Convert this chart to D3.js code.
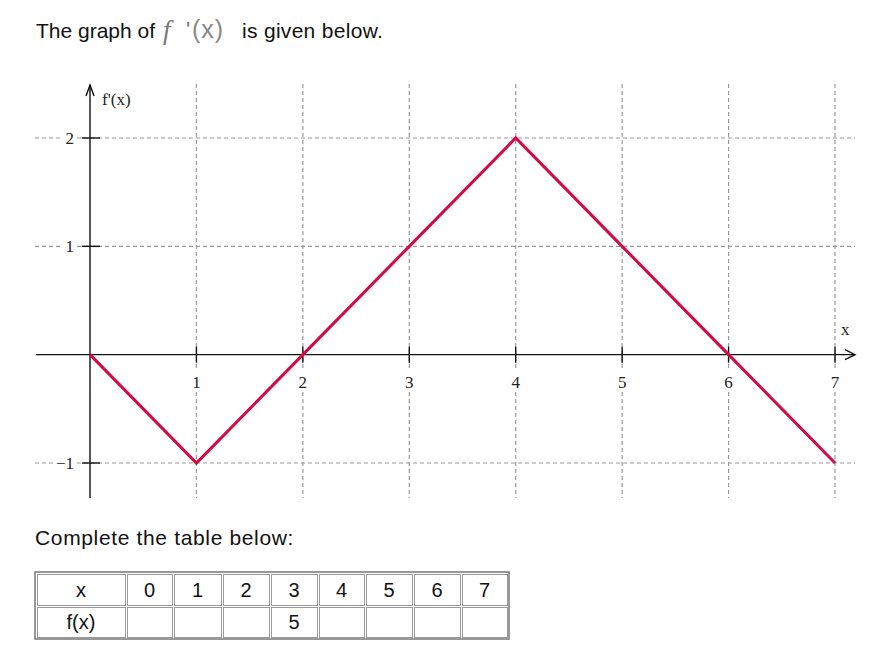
<!DOCTYPE html>
<html>
<head>
<meta charset="utf-8">
<script src="https://cdn.jsdelivr.net/npm/d3@7"></script>
<style>
  body { margin: 0; background: #fff; }
  svg text { font-family: "Liberation Sans", Arial, sans-serif; }
  .serif { font-family: "Liberation Serif", "Times New Roman", serif !important; }
</style>
</head>
<body>
<div class="chart-container"></div>
<script>
// Data
const xValues = [0, 1, 2, 3, 4, 5, 6, 7];
const fPrime = [0, -1, 0, 1, 2, 1, 0, -1];
const xTicks = [1, 2, 3, 4, 5, 6, 7];
const yTicks = [-1, 1, 2];
const tableHeader = ["x", "0", "1", "2", "3", "4", "5", "6", "7"];
const tableRow = ["f(x)", "", "", "", "5", "", "", "", ""];

const width = 886;
const height = 649;

const svg = d3.select('.chart-container').append("svg")
    .attr("width", width)
    .attr("height", height);

// Title
const title = svg.append("g").attr("id", "title");
title.append("text")
    .attr("x", 36).attr("y", 38)
    .style("font-size", "21px")
    .attr("fill", "#111")
    .text("The graph of");
title.append("text")
    .attr("class", "serif")
    .attr("x", 163).attr("y", 39)
    .style("font-style", "italic")
    .style("font-size", "27px")
    .attr("fill", "#777")
    .text("f");
title.append("text")
    .attr("x", 186).attr("y", 37)
    .style("font-size", "22px")
    .attr("fill", "#777")
    .text("'");
title.append("text")
    .attr("x", 192).attr("y", 38)
    .style("font-size", "25px")
    .style("letter-spacing", "1px")
    .attr("fill", "#888")
    .text("(x)");
title.append("text")
    .attr("x", 242).attr("y", 38)
    .style("font-size", "21px")
    .style("letter-spacing", "0.3px")
    .attr("fill", "#111")
    .text("is given below.");

// Scales
const x = d3.scaleLinear().domain([0, 7]).range([90, 835]);
const y = d3.scaleLinear().domain([-1, 2]).range([463, 138]);

const grid = svg.append("g")
    .attr("stroke", "#999")
    .attr("stroke-width", 1.2)
    .attr("stroke-dasharray", "4,3");

// vertical gridlines
grid.selectAll("line.v")
    .data(xTicks)
    .enter()
    .append("line")
    .attr("x1", d => x(d)).attr("x2", d => x(d))
    .attr("y1", 84).attr("y2", 498);

// horizontal gridlines
grid.selectAll("line.h")
    .data(yTicks)
    .enter()
    .append("line")
    .attr("x1", 35).attr("x2", 855)
    .attr("y1", d => y(d)).attr("y2", d => y(d));

// tick labels with white background so the gridlines break around them
const xLab = svg.append("g").attr("id", "x-labels");
xLab.selectAll("rect")
    .data(xTicks)
    .enter()
    .append("rect")
    .attr("x", d => x(d) - 6).attr("y", 370)
    .attr("width", 12).attr("height", 19)
    .attr("fill", "#fff");
xLab.selectAll("text")
    .data(xTicks)
    .enter()
    .append("text")
    .attr("class", "serif")
    .attr("x", d => x(d))
    .attr("y", 388)
    .attr("text-anchor", "middle")
    .style("font-size", "17px")
    .attr("fill", "#222")
    .text(d => d);

const yLab = svg.append("g").attr("id", "y-labels");
yLab.selectAll("rect")
    .data(yTicks)
    .enter()
    .append("rect")
    .attr("x", d => d < 0 ? 53 : 60).attr("y", d => y(d) - 9)
    .attr("width", d => d < 0 ? 22 : 15).attr("height", 18)
    .attr("fill", "#fff");
yLab.selectAll("text")
    .data(yTicks)
    .enter()
    .append("text")
    .attr("class", "serif")
    .attr("x", 74)
    .attr("y", d => y(d) + 6)
    .attr("text-anchor", "end")
    .style("font-size", "17px")
    .attr("fill", "#222")
    .text(d => d < 0 ? "\u2212" + Math.abs(d) : d);

// Axes
const axes = svg.append("g").attr("stroke", "#111").attr("stroke-width", 1.4).attr("fill", "none");
axes.append("line").attr("x1", 36).attr("x2", 854).attr("y1", y(0)).attr("y2", y(0));
axes.append("line").attr("x1", x(0)).attr("x2", x(0)).attr("y1", 498).attr("y2", 85);
// arrow heads
axes.append("path").attr("d", `M${x(0) - 4},${96} L${x(0)},${85} L${x(0) + 4},${96}`);
axes.append("path").attr("d", `M${845},${y(0) - 5} L${855},${y(0)} L${845},${y(0) + 5}`);

// tick marks
axes.selectAll("line.xt")
    .data(xTicks)
    .enter()
    .append("line")
    .attr("x1", d => x(d)).attr("x2", d => x(d))
    .attr("y1", y(0) - 8).attr("y2", y(0) + 8);
axes.selectAll("line.yt")
    .data(yTicks)
    .enter()
    .append("line")
    .attr("x1", x(0) - 8).attr("x2", x(0) + 10)
    .attr("y1", d => y(d)).attr("y2", d => y(d));

// Axis labels
svg.append("text")
    .attr("class", "serif")
    .attr("x", 102).attr("y", 105)
    .style("font-size", "17px")
    .attr("fill", "#222")
    .text("f'(x)");
svg.append("text")
    .attr("class", "serif")
    .attr("x", 841).attr("y", 335)
    .style("font-size", "17px")
    .attr("fill", "#222")
    .text("x");

// The f'(x) graph
const line = d3.line()
    .x((d, i) => x(xValues[i]))
    .y(d => y(d));

svg.append("path")
    .datum(fPrime)
    .attr("d", line)
    .attr("fill", "none")
    .attr("stroke", "#d40a45")
    .attr("stroke-width", 3)
    .attr("stroke-linejoin", "miter");

// Prompt
svg.append("text")
    .attr("x", 35).attr("y", 545)
    .style("font-size", "21px")
    .style("letter-spacing", "0.65px")
    .attr("fill", "#111")
    .text("Complete the table below:");

// Table
const colEdges = [36, 126, 173, 222, 270, 318, 365, 413, 461, 508];
const rowTop = [573, 606];
const rowH = [33, 32];

const table = svg.append("g").attr("id", "table");
table.append("rect")
    .attr("x", 35).attr("y", 572)
    .attr("width", 474).attr("height", 67)
    .attr("fill", "none")
    .attr("stroke", "#777")
    .attr("stroke-width", 1.5);

[tableHeader, tableRow].forEach((row, r) => {
    const g = table.append("g");
    g.selectAll("rect")
        .data(row)
        .enter()
        .append("rect")
        .attr("x", (d, i) => colEdges[i] + 1.5)
        .attr("y", rowTop[r] + 1.5)
        .attr("width", (d, i) => colEdges[i + 1] - colEdges[i] - 2)
        .attr("height", rowH[r] - 2)
        .attr("fill", "none")
        .attr("stroke", "#999")
        .attr("stroke-width", 1);
    g.selectAll("text")
        .data(row)
        .enter()
        .append("text")
        .attr("x", (d, i) => (colEdges[i] + colEdges[i + 1]) / 2)
        .attr("y", rowTop[r] + rowH[r] / 2 + 7)
        .attr("text-anchor", "middle")
        .style("font-size", "20px")
        .attr("fill", "#111")
        .text(d => d);
});
</script>
</body>
</html>
